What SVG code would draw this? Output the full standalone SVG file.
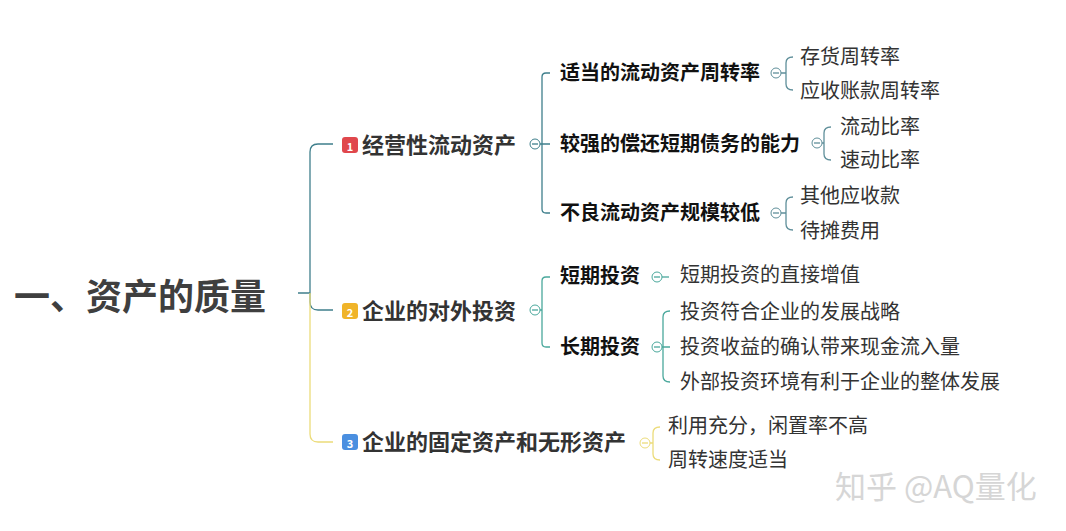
<svg xmlns="http://www.w3.org/2000/svg" width="1066" height="531" viewBox="0 0 1066 531">
<style>
text{font-family:"Noto Sans CJK SC","Noto Sans",sans-serif;dominant-baseline:central}
.root{font-size:36px;font-weight:bold;fill:#3f3f3f}
.l1{font-size:22px;font-weight:bold;fill:#333}
.l2{font-size:20px;font-weight:bold;fill:#111}
.leaf{font-size:20px;fill:#333}
.badge{font-size:11px;font-weight:bold;fill:#fff;text-anchor:middle}
.c{fill:none;stroke-width:1.3}
.t{stroke:#3f7f8c}
.g{stroke:#4aa89c}
.b{stroke:#5f8f9a}
.y{stroke:#ecdc7a}
.tog{fill:#fff;stroke-width:1}
.wm{font-size:31px;fill:#d6d6d6}
</style>
<rect width="1066" height="531" fill="#fff"/>
<g id="connectors">
  <path class="c t" d="M298,293 H310 V152 Q310,144 318,144 H333"/>
  <path class="c t" d="M310,293 V302 Q310,310 318,310 H333"/>
  <path class="c y" d="M310,293 V434 Q310,442 318,442 H333"/>
  <path class="c t" d="M540,144 H550 M550,73 H546 Q542,73 542,77 V209 Q542,213 546,213 H550"/>
  <circle class="tog t" cx="535" cy="144" r="5"/><path class="c t" d="M532,144 H538"/>
  <path class="c b" d="M781,73 H786 M793,57 Q786,57 786,63 V84 Q786,90 793,90"/>
  <circle class="tog b" cx="776" cy="73" r="5"/><path class="c b" d="M773,73 H779"/>
  <path class="c b" d="M822,143 H824 M831,127 Q824,127 824,133 V154 Q824,160 831,160"/>
  <circle class="tog b" cx="817" cy="143" r="5"/><path class="c b" d="M814,143 H820"/>
  <path class="c b" d="M781,213 H786 M793,197 Q786,197 786,203 V224 Q786,230 793,230"/>
  <circle class="tog b" cx="776" cy="213" r="5"/><path class="c b" d="M773,213 H779"/>
  <path class="c g" d="M540,310 H542 M550,277 H546 Q542,277 542,281 V343 Q542,347 546,347 H550"/>
  <circle class="tog g" cx="535" cy="310" r="5"/><path class="c g" d="M532,310 H538"/>
  <path class="c g" d="M662,277 H669"/>
  <circle class="tog g" cx="657" cy="277" r="5"/><path class="c g" d="M654,277 H660"/>
  <path class="c g" d="M662,347 H670 M670,311 Q663,311 663,317 V376 Q663,382 670,382"/>
  <circle class="tog g" cx="657" cy="347" r="5"/><path class="c g" d="M654,347 H660"/>
  <path class="c y" d="M650,443 H653 M660,427 Q653,427 653,433 V454 Q653,460 660,460"/>
  <circle class="tog y" cx="645" cy="443" r="5"/><path class="c y" d="M642,443 H648"/>
</g>
<g id="root"><text class="root" x="14" y="294">一、资产的质量</text></g>
<g id="n1">
  <rect x="342" y="137" width="16" height="16" rx="3" fill="#e0474c"/>
  <text class="badge" x="350" y="145.5">1</text>
  <text class="l1" x="362" y="143">经营性流动资产</text>
</g>
<g id="n2">
  <rect x="342" y="303" width="16" height="16" rx="3" fill="#f0b429"/>
  <text class="badge" x="350" y="311.5">2</text>
  <text class="l1" x="362" y="309">企业的对外投资</text>
</g>
<g id="n3">
  <rect x="342" y="434" width="16" height="16" rx="3" fill="#4a8fe0"/>
  <text class="badge" x="350" y="442.5">3</text>
  <text class="l1" x="362" y="440">企业的固定资产和无形资产</text>
</g>
<g id="n1a"><text class="l2" x="560" y="71">适当的流动资产周转率</text></g>
<g id="n1b"><text class="l2" x="560" y="142">较强的偿还短期债务的能力</text></g>
<g id="n1c"><text class="l2" x="560" y="211">不良流动资产规模较低</text></g>
<g id="n1a1"><text class="leaf" x="800" y="55">存货周转率</text></g>
<g id="n1a2"><text class="leaf" x="800" y="89">应收账款周转率</text></g>
<g id="n1b1"><text class="leaf" x="840" y="125">流动比率</text></g>
<g id="n1b2"><text class="leaf" x="840" y="158">速动比率</text></g>
<g id="n1c1"><text class="leaf" x="800" y="194">其他应收款</text></g>
<g id="n1c2"><text class="leaf" x="800" y="229">待摊费用</text></g>
<g id="n2a"><text class="l2" x="560" y="274">短期投资</text></g>
<g id="n2b"><text class="l2" x="560" y="345">长期投资</text></g>
<g id="n2a1"><text class="leaf" x="680" y="273">短期投资的直接增值</text></g>
<g id="n2b1"><text class="leaf" x="680" y="310">投资符合企业的发展战略</text></g>
<g id="n2b2"><text class="leaf" x="680" y="345">投资收益的确认带来现金流入量</text></g>
<g id="n2b3"><text class="leaf" x="680" y="380">外部投资环境有利于企业的整体发展</text></g>
<g id="n3a"><text class="leaf" x="668" y="424">利用充分，闲置率不高</text></g>
<g id="n3b"><text class="leaf" x="668" y="458">周转速度适当</text></g>
<g id="watermark"><text class="wm" x="835" y="484">知乎 @AQ量化</text></g>
</svg>
